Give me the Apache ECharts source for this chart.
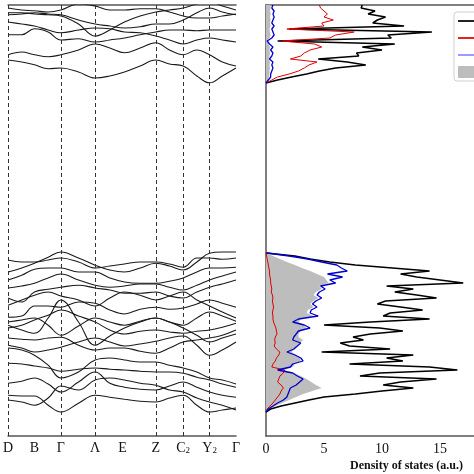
<!DOCTYPE html>
<html><head><meta charset="utf-8">
<script src="https://cdn.jsdelivr.net/npm/echarts@6/dist/echarts.min.js"></script>
<style>html,body{margin:0;padding:0;background:#fff}#c{width:474px;height:474px}</style>
</head><body><div id="c"></div>
<script>
// ---- band structure: k-path positions and labels
const kPos = [0, 14, 27, 41, 54, 72, 89, 104, 119, 135, 151, 165, 179, 193, 206, 219, 233];
const kTickPos = [0, 27, 54, 89, 117, 151, 179, 206, 233];
const kTickLabels = ['D', 'B', 'Γ', 'Λ', 'Ε', 'Z', 'C2', 'Y2', 'Γ'];
const kLines = [0, 54, 89, 151, 179, 206];
const E_MIN = -4.65, E_MAX = 6.125;

// conduction bands (eV)
const conductionBands = [
  [4.75, 4.70, 4.63, 4.53, 4.55, 4.45, 4.30, 4.35, 4.45, 4.60, 4.75, 4.65, 4.60, 4.35, 4.18, 4.35, 4.55],
  [4.88, 4.95, 4.88, 4.83, 4.88, 5.00, 5.15, 5.05, 4.93, 5.05, 5.18, 5.00, 4.88, 5.00, 4.88, 4.70, 4.60],
  [5.38, 5.38, 5.53, 5.45, 5.25, 5.28, 5.20, 5.25, 5.30, 5.38, 5.45, 5.50, 5.50, 5.48, 5.50, 5.50, 5.50],
  [5.88, 5.90, 5.93, 5.90, 5.88, 5.75, 5.65, 5.60, 5.55, 5.58, 5.65, 5.65, 5.75, 5.93, 6.05, 5.95, 5.88],
  [5.93, 5.93, 5.90, 5.88, 5.85, 5.65, 5.35, 5.50, 5.70, 5.85, 5.95, 6.00, 6.05, 6.15, 6.20, 6.10, 6.00],
  [6.05, 6.00, 5.98, 5.95, 6.00, 6.15, 6.10, 6.00, 6.00, 6.03, 6.03, 5.95, 5.85, 5.80, 5.80, 5.85, 5.90],
  [5.70, 5.65, 5.60, 5.50, 5.43, 5.50, 5.55, 5.53, 5.45, 5.43, 5.35, 5.25, 5.15, 5.25, 5.30, 5.25, 5.20]
];
// valence bands (eV)
const valenceBands = [
  [-0.55,-0.45,-0.33,-0.18,-0.05,-0.20,-0.38,-0.50,-0.55,-0.45,-0.33,-0.40,-0.50,-0.30,-0.08,-0.05,-0.05],
  [-0.75,-0.63,-0.48,-0.45,-0.45,-0.55,-0.55,-0.70,-0.80,-0.83,-0.83,-0.78,-0.70,-0.55,-0.45,-0.45,-0.43],
  [-1.20,-1.30,-1.05,-0.98,-0.93,-0.88,-0.95,-1.00,-1.08,-1.08,-1.05,-1.15,-1.20,-1.05,-0.93,-0.85,-0.75],
  [-1.68,-1.65,-1.40,-1.40,-1.43,-1.30,-1.33,-1.50,-1.60,-1.48,-1.43,-1.48,-1.45,-1.35,-1.25,-1.33,-1.43],
  [-1.95,-1.88,-1.75,-1.63,-1.50,-1.65,-1.80,-2.00,-2.10,-2.03,-2.00,-2.05,-2.08,-2.03,-2.00,-1.93,-1.83],
  [-2.20,-2.23,-2.25,-2.20,-2.18,-2.38,-2.50,-2.45,-2.45,-2.53,-2.58,-2.45,-2.30,-2.25,-2.20,-2.13,-2.00],
  [-2.45,-2.50,-2.63,-2.88,-3.20,-3.05,-2.75,-2.70,-2.75,-2.80,-2.80,-2.88,-2.95,-3.05,-3.20,-3.25,-3.35],
  [-2.83,-2.85,-2.90,-2.95,-3.03,-2.98,-2.95,-2.98,-3.00,-3.03,-3.05,-3.05,-3.08,-3.18,-3.25,-3.35,-3.43],
  [-3.33,-3.28,-3.20,-3.35,-3.55,-3.30,-3.05,-3.33,-3.43,-3.48,-3.50,-3.40,-3.30,-3.43,-3.55,-3.63,-3.68],
  [-3.63,-3.65,-3.65,-3.88,-4.05,-3.83,-3.63,-3.68,-3.73,-3.78,-3.80,-3.70,-3.63,-3.88,-4.05,-4.00,-3.95],
  [-2.38,-2.45,-2.55,-2.50,-2.43,-2.30,-2.20,-2.30,-2.40,-2.35,-2.28,-2.20,-2.15,-2.38,-2.63,-2.50,-2.30],
  [-1.38,-1.25,-1.13,-1.05,-1.15,-1.25,-1.40,-1.20,-1.05,-1.13,-1.25,-1.15,-1.05,-1.25,-1.40,-1.55,-1.70],
  [-1.80,-1.75,-1.70,-1.88,-2.13,-1.90,-1.70,-1.80,-1.88,-1.78,-1.70,-1.80,-1.88,-1.70,-1.55,-1.65,-1.78],
  [-1.88,-2.00,-2.08,-1.70,-1.25,-1.80,-2.38,-2.15,-1.95,-1.80,-1.70,-1.80,-1.95,-2.13,-2.30,-2.20,-2.10],
  [-0.95,-0.90,-0.83,-0.70,-0.60,-0.75,-0.88,-0.93,-0.90,-0.85,-0.85,-0.93,-1.00,-0.88,-0.75,-0.65,-0.55],
  [-0.25,-0.30,-0.30,-0.25,-0.20,-0.30,-0.45,-0.40,-0.35,-0.30,-0.30,-0.35,-0.43,-0.20,-0.20,-0.23,-0.20],
  [-3.75,-3.80,-3.88,-3.70,-3.40,-3.50,-3.25,-3.20,-3.25,-3.33,-3.38,-3.50,-3.55,-3.70,-3.80,-3.88,-4.00]
];

// ---- density of states
const dosTicks = [0, 5, 10, 15];
const DOS_MAX = 17.93;
const eCond = [6.125, 6.05, 5.975, 5.9, 5.825, 5.75, 5.675, 5.6, 5.525, 5.45, 5.375, 5.3, 5.225, 5.15, 5.075, 5.0, 4.925, 4.85, 4.775, 4.7, 4.625, 4.55, 4.475, 4.4, 4.325, 4.25, 4.175];
const totalCond = [8.3, 8.2, 9.4, 8.8, 10.3, 9.6, 9.2, 11.9, 2.0, 14.3, 10.5, 10.8, 1.0, 11.1, 8.3, 10.0, 7.8, 8.0, 4.5, 7.0, 8.6, 6.0, 4.6, 3.5, 2.2, 1.0, 0];
const sCond = [4.6, 4.7, 5.0, 5.3, 5.0, 5.8, 4.8, 5.0, 1.8, 7.6, 6.0, 5.5, 1.4, 4.2, 4.8, 3.8, 3.3, 3.0, 2.1, 4.4, 3.7, 3.3, 2.8, 2.0, 1.0, 0.5, 0];
const pCond = [0.6, 0.5, 0.7, 0.6, 0.7, 0.6, 0.5, 0.7, 0.5, 0.6, 0.7, 0.5, 0.1, 0.3, 0.6, 0.4, 0.6, 0.5, 0.3, 0.6, 0.5, 0.6, 0.5, 0.4, 0.4, 0.2, 0];
const dCond = [0.4, 0.4, 0.35, 0.4, 0.35, 0.4, 0.35, 0.4, 0.3, 0.35, 0.4, 0.3, 0.05, 0.2, 0.35, 0.3, 0.35, 0.3, 0.25, 0.35, 0.3, 0.35, 0.3, 0.3, 0.25, 0.15, 0];

const eVal = [-0.075, -0.15, -0.225, -0.3, -0.375, -0.45, -0.525, -0.6, -0.675, -0.75, -0.825, -0.9, -0.975, -1.05, -1.125, -1.2, -1.275, -1.35, -1.425, -1.5, -1.575, -1.65, -1.725, -1.8, -1.875, -1.95, -2.025, -2.1, -2.175, -2.25, -2.325, -2.4, -2.475, -2.55, -2.625, -2.7, -2.775, -2.85, -2.925, -3.0, -3.075, -3.15, -3.225, -3.3, -3.375, -3.45, -3.525, -3.6, -3.675, -3.75, -3.825, -3.9, -3.975, -4.05];
const totalVal = [0, 2.5, 3.8, 5.5, 7.7, 10.9, 14.1, 11.6, 13.0, 15.0, 17.0, 10.4, 12.7, 11.1, 13.0, 14.7, 10.3, 9.6, 11.6, 13.5, 10.7, 10.1, 14.1, 9.0, 5.0, 9.8, 11.8, 9.0, 7.5, 8.4, 6.4, 7.2, 10.7, 4.8, 12.7, 10.4, 11.8, 7.2, 14.1, 16.5, 9.8, 8.1, 14.7, 11.6, 10.1, 12.7, 10.0, 7.7, 5.0, 3.7, 2.5, 1.3, 0.4, 0];
const sVal = [0, 0.05, 0.1, 0.15, 0.2, 0.25, 0.3, 0.3, 0.35, 0.4, 0.4, 0.45, 0.5, 0.45, 0.55, 0.6, 0.55, 0.6, 0.65, 0.6, 0.55, 0.6, 0.6, 0.65, 0.75, 0.85, 0.9, 0.95, 0.8, 0.75, 0.8, 0.7, 0.9, 1.2, 1.1, 0.9, 0.8, 0.6, 0.5, 1.6, 1.5, 1.2, 1.1, 1.0, 1.3, 1.5, 1.3, 1.2, 1.0, 0.8, 0.6, 0.35, 0.1, 0];
const pVal = [0.1, 2.0, 3.6, 4.8, 6.1, 6.5, 7.0, 5.3, 6.6, 5.5, 6.0, 4.7, 5.1, 4.6, 4.4, 4.8, 4.3, 4.0, 4.4, 3.9, 3.8, 4.5, 2.8, 2.3, 3.3, 3.8, 2.8, 2.6, 2.4, 2.3, 3.0, 2.7, 2.4, 1.8, 2.5, 3.0, 3.2, 2.3, 2.1, 1.0, 2.3, 2.7, 3.2, 2.9, 2.6, 2.1, 2.0, 1.9, 1.8, 1.5, 1.0, 0.6, 0.2, 0];
const dVal = [0, 0.6, 1.2, 1.8, 2.5, 3.1, 3.8, 4.4, 5.0, 5.2, 5.4, 4.6, 4.8, 4.3, 4.1, 4.5, 4.1, 3.8, 4.1, 3.6, 3.5, 4.1, 3.0, 2.8, 3.2, 3.5, 3.0, 2.8, 2.8, 3.2, 2.9, 2.6, 2.5, 2.2, 2.6, 2.9, 3.0, 2.5, 2.3, 1.6, 2.4, 3.0, 3.5, 3.9, 4.3, 4.8, 4.0, 3.2, 2.6, 2.0, 1.4, 0.8, 0.3, 0];

const seriesNames = ['Total', 's', 'p', 'd'];

const SERIF = '"Liberation Serif", "DejaVu Serif", serif';
const chart = echarts.init(document.getElementById('c'), null, {renderer: 'canvas'});

function pairs(vals, es) { return vals.map((v, i) => [v, es[i]]); }
function dosData(cv, vv) { return pairs(cv, eCond).concat([['-', '-']], pairs(vv, eVal)); }

const series = [];
conductionBands.concat(valenceBands).forEach((b, idx) => {
  const s = {
    type: 'line', xAxisIndex: 0, yAxisIndex: 0, smooth: 0.4, symbol: 'none', silent: true,
    lineStyle: {color: '#1a1a1a', width: 1.1}, z: 3,
    data: kPos.map((k, i) => [k, b[i]])
  };
  if (idx === 0) {
    s.markLine = {
      silent: true, symbol: 'none', label: {show: false},
      lineStyle: {type: [4, 3], color: '#333', width: 1},
      data: kLines.map(v => ({xAxis: v}))
    };
  }
  series.push(s);
});

series.push({
  type: 'custom', name: seriesNames[3], xAxisIndex: 2, yAxisIndex: 1, data: [[0, 0]], z: 1,
  itemStyle: {color: '#bdbdbd'},
  renderItem: function (params, api) {
    function poly(vals, es) {
      const pts = [api.coord([0, es[0]])];
      vals.forEach((v, i) => pts.push(api.coord([v, es[i]])));
      pts.push(api.coord([0, es[es.length - 1]]));
      return {type: 'polygon', shape: {points: pts}, style: {fill: '#bdbdbd'}};
    }
    return {type: 'group', children: [poly(dCond, eCond), poly(dVal, eVal)]};
  }
});
series.push({type: 'line', name: seriesNames[0], xAxisIndex: 2, yAxisIndex: 1, symbol: 'none', z: 3,
  lineStyle: {color: '#000', width: 1.5}, itemStyle: {color: '#000'}, data: dosData(totalCond, totalVal)});
series.push({type: 'line', name: seriesNames[1], xAxisIndex: 2, yAxisIndex: 1, symbol: 'none', z: 4,
  lineStyle: {color: '#e00000', width: 1}, itemStyle: {color: '#e00000'}, data: dosData(sCond, sVal)});
series.push({type: 'line', name: seriesNames[2], xAxisIndex: 2, yAxisIndex: 1, symbol: 'none', z: 5,
  lineStyle: {color: '#0000d0', width: 1.3}, itemStyle: {color: '#0000d0'}, data: dosData(pCond, pVal)});

const axisLineStyle = {color: '#555', width: 1.5};
const lineIcon = 'path://M0,5 L30,5 L30,7 L0,7 Z';

const option = {
  animation: false,
  backgroundColor: '#fff',
  title: {text: 'Density of states (a.u.)', left: 350, top: 460, padding: 0,
    textStyle: {fontFamily: SERIF, fontSize: 12, fontWeight: 'bold', color: '#111'}},
  legend: {
    orient: 'vertical', left: 454, top: 12, padding: [3, 4], itemGap: 5,
    itemWidth: 26, itemHeight: 12, borderColor: '#cfcfcf', borderWidth: 1, borderRadius: 3,
    textStyle: {fontFamily: SERIF, fontSize: 12, color: '#111'},
    data: [
      {name: 'Total', icon: lineIcon, itemStyle: {color: '#000'}},
      {name: 's', icon: lineIcon, itemStyle: {color: '#e00000'}},
      {name: 'p', icon: lineIcon, itemStyle: {color: '#8c8cff'}},
      {name: 'd', icon: 'rect', itemStyle: {color: '#bdbdbd'}}
    ]
  },
  grid: [
    {left: 3, top: 5, width: 233, height: 431},
    {left: 266, top: 5, width: 208, height: 431}
  ],
  xAxis: [
    {gridIndex: 0, type: 'value', min: 0, max: 233, position: 'bottom',
      axisLine: {show: true, onZero: false, lineStyle: axisLineStyle},
      axisTick: {show: false}, splitLine: {show: false},
      axisLabel: {
        customValues: kTickPos, margin: 5, showMinLabel: true, showMaxLabel: true,
        formatter: function (v) {
          const i = kTickPos.indexOf(v);
          if (i < 0) return '';
          const t = kTickLabels[i];
          if (t.length === 2 && /\d/.test(t[1])) return '{m|' + t[0] + '}{s|' + t[1] + '}';
          return '{m|' + t + '}';
        },
        rich: {
          m: {fontFamily: SERIF, fontSize: 14, lineHeight: 14, verticalAlign: 'top', color: '#111'},
          s: {fontFamily: SERIF, fontSize: 9, lineHeight: 14.5, verticalAlign: 'bottom', color: '#111'}
        }
      }},
    {gridIndex: 0, type: 'value', min: 0, max: 233, position: 'top',
      axisLine: {show: true, onZero: false, lineStyle: axisLineStyle},
      axisTick: {show: false}, axisLabel: {show: false}, splitLine: {show: false}},
    {gridIndex: 1, type: 'value', min: 0, max: DOS_MAX, position: 'bottom',
      axisLine: {show: true, onZero: false, lineStyle: axisLineStyle},
      axisTick: {show: false}, splitLine: {show: false},
      axisLabel: {customValues: dosTicks, margin: 6, fontFamily: SERIF, fontSize: 14, color: '#111'}},
    {gridIndex: 1, type: 'value', min: 0, max: DOS_MAX, position: 'top',
      axisLine: {show: true, onZero: false, lineStyle: axisLineStyle},
      axisTick: {show: false}, axisLabel: {show: false}, splitLine: {show: false}}
  ],
  yAxis: [
    {gridIndex: 0, type: 'value', min: E_MIN, max: E_MAX, show: false, splitLine: {show: false}},
    {gridIndex: 1, type: 'value', min: E_MIN, max: E_MAX,
      axisLine: {show: true, onZero: false, lineStyle: axisLineStyle},
      axisTick: {show: false}, axisLabel: {show: false}, splitLine: {show: false}}
  ],
  series: series
};
chart.setOption(option);
</script>
</body></html>
